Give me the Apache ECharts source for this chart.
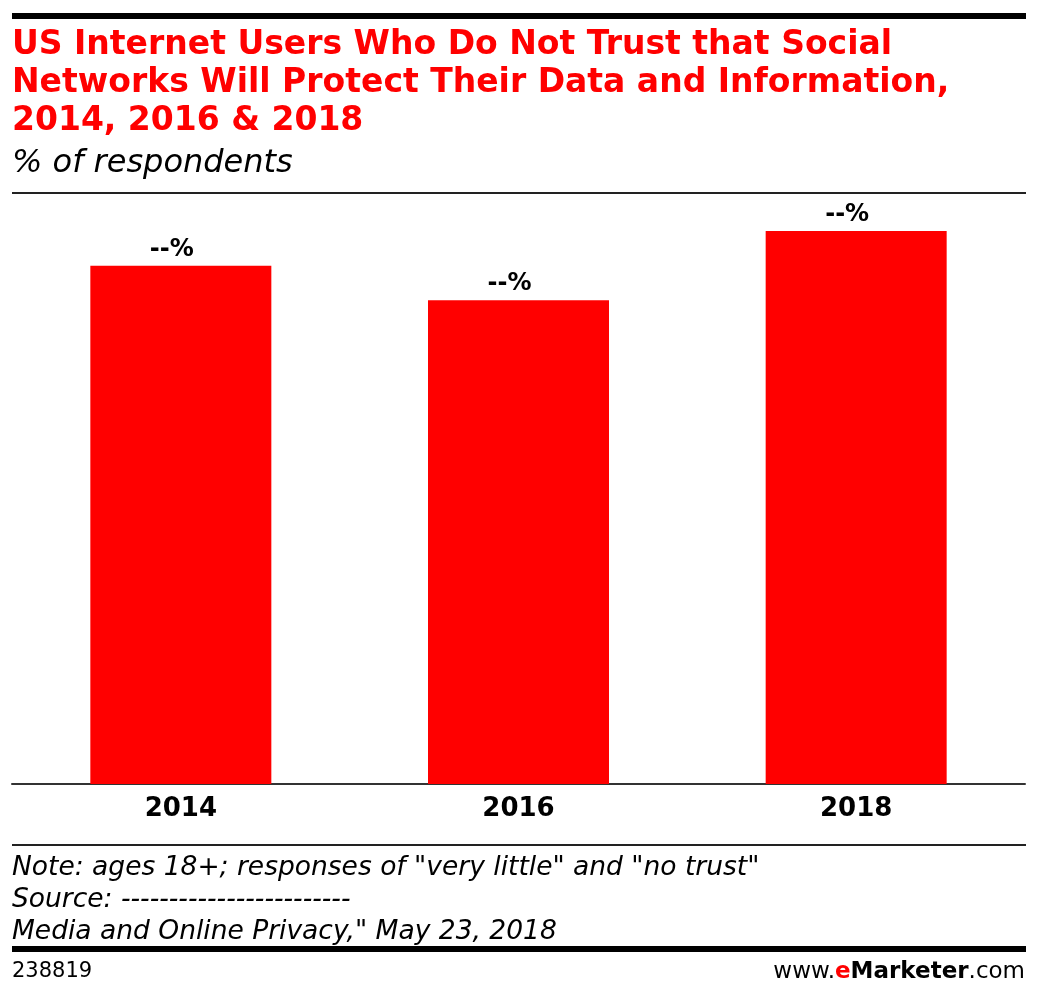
<!DOCTYPE html>
<html><head><meta charset="utf-8">
<script src="https://cdn.jsdelivr.net/npm/echarts@6/dist/echarts.min.js"></script>
<style>html,body{margin:0;padding:0;background:#fff}#c{width:1038px;height:1001px}</style>
</head><body><div id="c"></div>
<script>
const categories = ['2014', '2016', '2018'];
const values = [60, 56, 64];
const valueLabels = ['--%', '--%', '--%'];
const titleLines = ['US Internet Users Who Do Not Trust that Social', 'Networks Will Protect Their Data and Information,', '2014, 2016 & 2018'];
const subtitle = '% of respondents';
const noteLines = ['Note: ages 18+; responses of "very little" and "no trust"', 'Source: ------------------------', 'Media and Online Privacy," May 23, 2018'];
const chartId = '238819';

const chart = echarts.init(document.getElementById('c'));
const FONT = '"DejaVu Sans", sans-serif';
const graphics = [
  {type:'rect', shape:{x:12,y:13,width:1014,height:6}, style:{fill:'#000'}},
  {type:'rect', shape:{x:12,y:192,width:1014,height:2}, style:{fill:'#222'}},
  {type:'rect', shape:{x:12,y:844,width:1014,height:2}, style:{fill:'#222'}},
  {type:'rect', shape:{x:12,y:946,width:1014,height:6}, style:{fill:'#000'}},
  {type:'text', x:12, y:164, style:{text:subtitle, font:'italic 32px ' + FONT, fill:'#000', textVerticalAlign:'middle'}},
  {type:'text', x:12, y:972, style:{text:chartId, font:'21px ' + FONT, fill:'#000', textVerticalAlign:'middle'}},
  {type:'text', x:1025, y:972, style:{rich:{a:{fontSize:23,fontFamily:FONT,fill:'#000'},e:{fontSize:23,fontFamily:FONT,fontWeight:'bold',fill:'#ff0000'},m:{fontSize:23,fontFamily:FONT,fontWeight:'bold',fill:'#000'}}, text:'{a|www.}{e|e}{m|Marketer}{a|.com}', textAlign:'right', textVerticalAlign:'middle'}}
];
titleLines.forEach((t,i)=>graphics.push({type:'text', x:12, y:45 + i*38, style:{text:t, font:'bold 33px ' + FONT, fill:'#ff0000', textVerticalAlign:'middle'}}));
noteLines.forEach((t,i)=>graphics.push({type:'text', x:12, y:868 + i*32, style:{text:t, font:'italic 26.5px ' + FONT, fill:'#000', textVerticalAlign:'middle'}}));

chart.setOption({
  animation:false,
  backgroundColor:'#fff',
  grid:{left:12, right:13, top:200, bottom:217},
  xAxis:{type:'category', data:categories,
    axisLine:{lineStyle:{color:'#333', width:2}}, axisTick:{show:false},
    axisLabel:{fontFamily:FONT, fontWeight:'bold', fontSize:26, color:'#000', margin:12}},
  yAxis:{type:'value', min:0, max:67.6, show:false, splitLine:{show:false}},
  series:[{type:'bar', data:values, barWidth:181, itemStyle:{color:'#ff0000'},
    label:{show:true, position:'top', distance:4, offset:[-9,0], formatter:p=>valueLabels[p.dataIndex], fontFamily:FONT, fontWeight:'bold', fontSize:24, color:'#000'}}],
  graphic:graphics
});
</script></body></html>
